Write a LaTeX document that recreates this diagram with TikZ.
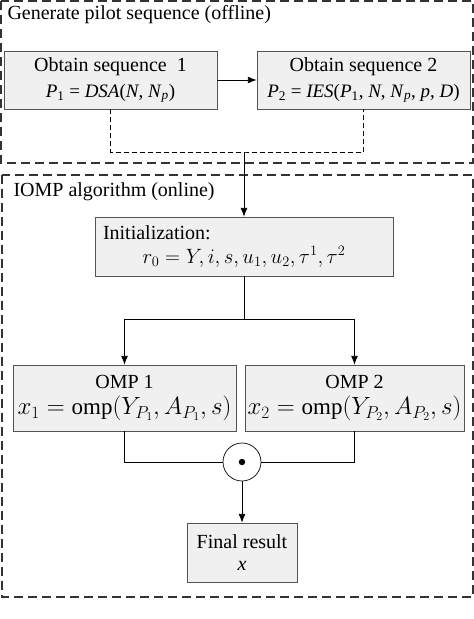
\documentclass[tikz,border=0pt]{standalone}
\usepackage{fontspec}
\setmainfont{Liberation Serif}
\usetikzlibrary{arrows.meta}

\tikzset{
  stagebox/.style={draw=gray!65!black, fill=gray!12, inner sep=0pt, align=center,
    font=\fontsize{20}{26}\selectfont},
  framebox/.style={line width=1.6pt, black!80, dash pattern=on 9pt off 5pt},
  link/.style={line width=0.9pt},
  >={Latex[length=9pt,width=7pt]},
}
% italic letter as in the offline formulas
\newcommand{\iv}[1]{\textit{#1}}

\begin{document}
\begin{tikzpicture}[x=1pt,y=-1pt]
\useasboundingbox (0,0) rectangle (474,619);

% the two stages
\draw[framebox] (1,1) rectangle (473,163);
\draw[framebox] (2,175) rectangle (473,597);
\node[anchor=west, font=\fontsize{20}{24}\selectfont] (offtitle) at (4,15) {Generate pilot sequence (offline)};
\node[anchor=west, font=\fontsize{20}{24}\selectfont] (ontitle) at (10,192) {IOMP algorithm (online)};

% offline blocks
\node[stagebox, minimum width=213pt, minimum height=58pt] (seqa) at (110.5,80)
  {Obtain sequence\ \ 1\\ {\fontsize{19}{20}\selectfont \iv{P}\textsubscript{1} = \iv{DSA}(\iv{N}, \iv{N}\textsubscript{\iv{p}})}};
\node[stagebox, minimum width=213pt, minimum height=58pt] (seqb) at (363.5,80)
  {Obtain sequence 2\\ {\fontsize{19}{20}\selectfont \iv{P}\textsubscript{2} = \iv{IES}(\iv{P}\textsubscript{1}, \iv{N}, \iv{N}\textsubscript{\iv{p}}, \iv{p}, \iv{D})}};
\coordinate (merge) at (244,152);

% online blocks
\node[stagebox, minimum width=298pt, minimum height=59pt] (init) at (244,246.5)
  {\makebox[282pt][l]{Initialization:}\\[-2pt] {\fontsize{21}{24}\selectfont $r_0 = Y, i, s, u_1, u_2, \tau^1, \tau^2$}};
\coordinate (split) at (244,319);
\node[stagebox, minimum width=223pt, minimum height=66pt] (ompa) at (124.5,398)
  {OMP 1\\[0pt] {\fontsize{23}{26}\selectfont $x_1 = \mathrm{omp}\bigl(Y_{P_1}, A_{P_1}, s\bigr)$}};
\node[stagebox, minimum width=219pt, minimum height=66pt] (ompb) at (354.5,398)
  {OMP 2\\[0pt] {\fontsize{23}{26}\selectfont $x_2 = \mathrm{omp}\bigl(Y_{P_2}, A_{P_2}, s\bigr)$}};
\node[circle, draw, fill=white, minimum size=38pt, inner sep=0pt, line width=0.7pt] (dot) at (242,462) {};
\fill (dot.center) circle (3.2pt);
\node[stagebox, minimum width=110pt, minimum height=59pt] (final) at (242,552.5)
  {Final result\\[-4pt] \iv{x}};

% connectors
\draw[link,->] (seqa) -- (seqb);
\draw[link, dash pattern=on 5pt off 3pt] (seqa.south) |- (merge) -| (seqb.south);
\draw[link,->] (merge) -- (init.north);
\draw[link] (init.south) -- (split);
\draw[link,->] (split) -| (ompa.north);
\draw[link,->] (split) -| (ompb.north);
\draw[link] (ompa.south) |- (dot.west);
\draw[link] (ompb.south) |- (dot.east);
\draw[link,->] (dot) -- (final);
\end{tikzpicture}
\end{document}
